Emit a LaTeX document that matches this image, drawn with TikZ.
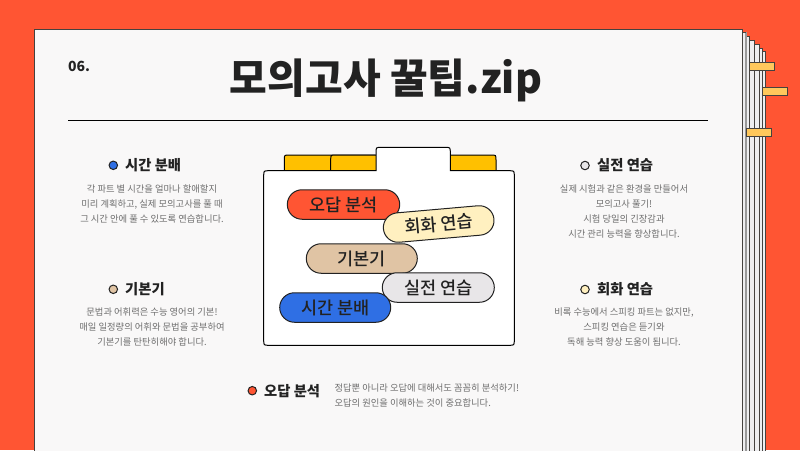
\documentclass[tikz,border=0pt]{standalone}
\usepackage{fontspec}
\usetikzlibrary{shapes.misc}
\setmainfont{Noto Sans CJK KR}
\newfontfamily\krblack{Noto Sans CJK KR Black}
\newfontfamily\krmed{Noto Sans CJK KR Medium}
\definecolor{bgred}{HTML}{FF5533}
\definecolor{pagefill}{HTML}{F9F8F8}
\definecolor{leaf}{HTML}{EEEEF0}
\definecolor{edgeline}{HTML}{45423F}
\definecolor{ink}{HTML}{222222}
\definecolor{bodygrey}{HTML}{6E6E6E}
\definecolor{tabgold}{HTML}{FFC85C}
\definecolor{foldergold}{HTML}{FFC000}
\definecolor{cblue}{HTML}{2F6FE4}
\definecolor{ccream}{HTML}{FFF0C0}
\definecolor{cbeige}{HTML}{E0C4A4}
\definecolor{cgrey}{HTML}{E8E6E8}
\tikzset{
  leafpage/.style={draw=edgeline,line width=1pt,fill=leaf},
  sidetab/.style={draw=edgeline,line width=0.8pt,fill=tabgold},
  pill/.style={rounded rectangle,draw=ink,line width=1pt,minimum height=29.5pt,inner sep=0pt,
    font=\krmed\fontsize{17.5}{18}\selectfont,text=ink},
  bullet/.style={circle,draw=ink,line width=1pt,minimum size=8.5pt,inner sep=0pt},
  heading/.style={anchor=west,inner sep=0pt,font=\bfseries\fontsize{14.3}{15}\selectfont,text=ink},
  bodytext/.style={inner sep=0pt,align=center,font=\fontsize{9.3}{15}\selectfont,text=bodygrey},
  folderline/.style={draw=black,line width=1pt}
}
\begin{document}
\begin{tikzpicture}[x=1pt,y=-1pt]
\clip (0,0) rectangle (800,450);
\fill[bgred] (0,0) rectangle (800,450);
% stacked leaves
\draw[leafpage] (600,51.7) rectangle (765.5,470);
\draw[leafpage] (600,48) rectangle (762.5,470);
\draw[leafpage] (600,44) rectangle (759.5,470);
\draw[leafpage] (600,40) rectangle (754.5,470);
\draw[leafpage] (600,36.7) rectangle (749.5,470);
\draw[draw=gray!80,line width=1.5pt,fill=leaf] (600,32.7) rectangle (746,470);
\draw[draw=edgeline,line width=0.9pt] (600,32.7) -- (746,32.7);
% main page
\draw[draw=edgeline,line width=1pt,fill=pagefill] (34.5,470) -- (34.5,29.5) -- (742.7,29.5) -- (742.7,470);
% side tabs
\draw[sidetab] (749.3,62.3) rectangle (774.7,70.7);
\draw[sidetab] (762.3,87.3) rectangle (787.7,95.7);
\draw[sidetab] (746.3,128.3) rectangle (771.7,136.7);
% header
\node[inner sep=0pt,font=\bfseries\fontsize{14}{14}\selectfont,text=ink] (num) at (79,66) {06.};
\node[inner sep=0pt,font=\krblack\fontsize{41}{42}\selectfont,text=ink] (title) at (386,80) {모의고사 꿀팁.zip};
\draw[black,line width=0.9pt] (68,120.3) -- (708,120.3);
% folder
\draw[folderline,fill=foldergold] (284.3,172) -- (284.3,160) .. controls (284.3,155) .. (289.3,155) -- (375,155) -- (375,172) -- cycle;
\draw[folderline,fill=foldergold] (330.7,172) -- (330.7,160) .. controls (330.7,155) .. (335.7,155) -- (491,155) .. controls (496,155) .. (496,160) -- (496,172) -- cycle;
\draw[folderline,fill=white] (263.7,176.2) .. controls (263.7,170.7) .. (269.2,170.7) -- (376,170.7) -- (376,152.8) .. controls (376,147.3) .. (381.5,147.3) -- (444.8,147.3) .. controls (450.3,147.3) .. (450.3,152.8) -- (450.3,170.7) -- (508.8,170.7) .. controls (514.3,170.7) .. (514.3,176.2) -- (514.3,339.8) .. controls (514.3,345.3) .. (508.8,345.3) -- (269.2,345.3) .. controls (263.7,345.3) .. (263.7,339.8) -- cycle;
% pills
\node[pill,fill=bgred,minimum width=112.4pt] (p1) at (343.5,204.5) {오답 분석};
\node[pill,fill=ccream,minimum width=111pt,rotate=5] (p2) at (438.7,224) {회화 연습};
\node[pill,fill=cbeige,minimum width=111pt] (p3) at (361.8,258.5) {기본기};
\node[pill,fill=cgrey,minimum width=112pt] (p4) at (438.3,287.5) {실전 연습};
\node[pill,fill=cblue,minimum width=111pt] (p5) at (335.2,307.5) {시간 분배};
% left items
\node[bullet,fill=cblue] (b1) at (113.3,165.3) {};
\node[heading] (h1) at (125,165.5) {시간 분배};
\node[bodytext] (t1) at (152,204) {각 파트 별 시간을 얼마나 할애할지\\미리 계획하고, 실제 모의고사를 풀 때\\그 시간 안에 풀 수 있도록 연습합니다.};
\node[bullet,fill=cbeige] (b2) at (113.3,289.3) {};
\node[heading] (h2) at (125,289.5) {기본기};
\node[bodytext] (t2) at (152,327.3) {문법과 어휘력은 수능 영어의 기본!\\매일 일정량의 어휘와 문법을 공부하여\\기본기를 탄탄히해야 합니다.};
% right items
\node[bullet,fill=cgrey] (b3) at (585,165.5) {};
\node[heading] (h3) at (597,165.5) {실전 연습};
\node[bodytext] (t3) at (624,211.5) {실제 시험과 같은 환경을 만들어서\\모의고사 풀기!\\시험 당일의 긴장감과\\시간 관리 능력을 향상합니다.};
\node[bullet,fill=ccream] (b4) at (585,289.5) {};
\node[heading] (h4) at (597,289.5) {회화 연습};
\node[bodytext] (t4) at (624,327.3) {비록 수능에서 스피킹 파트는 없지만,\\스피킹 연습은 듣기와\\독해 능력 향상 도움이 됩니다.};
% bottom item
\node[bullet,fill=bgred] (b5) at (252.3,390.7) {};
\node[heading] (h5) at (264,391) {오답 분석};
\node[bodytext,align=left,anchor=west] (t5) at (334.3,396) {정답뿐 아니라 오답에 대해서도 꼼꼼히 분석하기!\\오답의 원인을 이해하는 것이 중요합니다.};
\end{tikzpicture}
\end{document}
